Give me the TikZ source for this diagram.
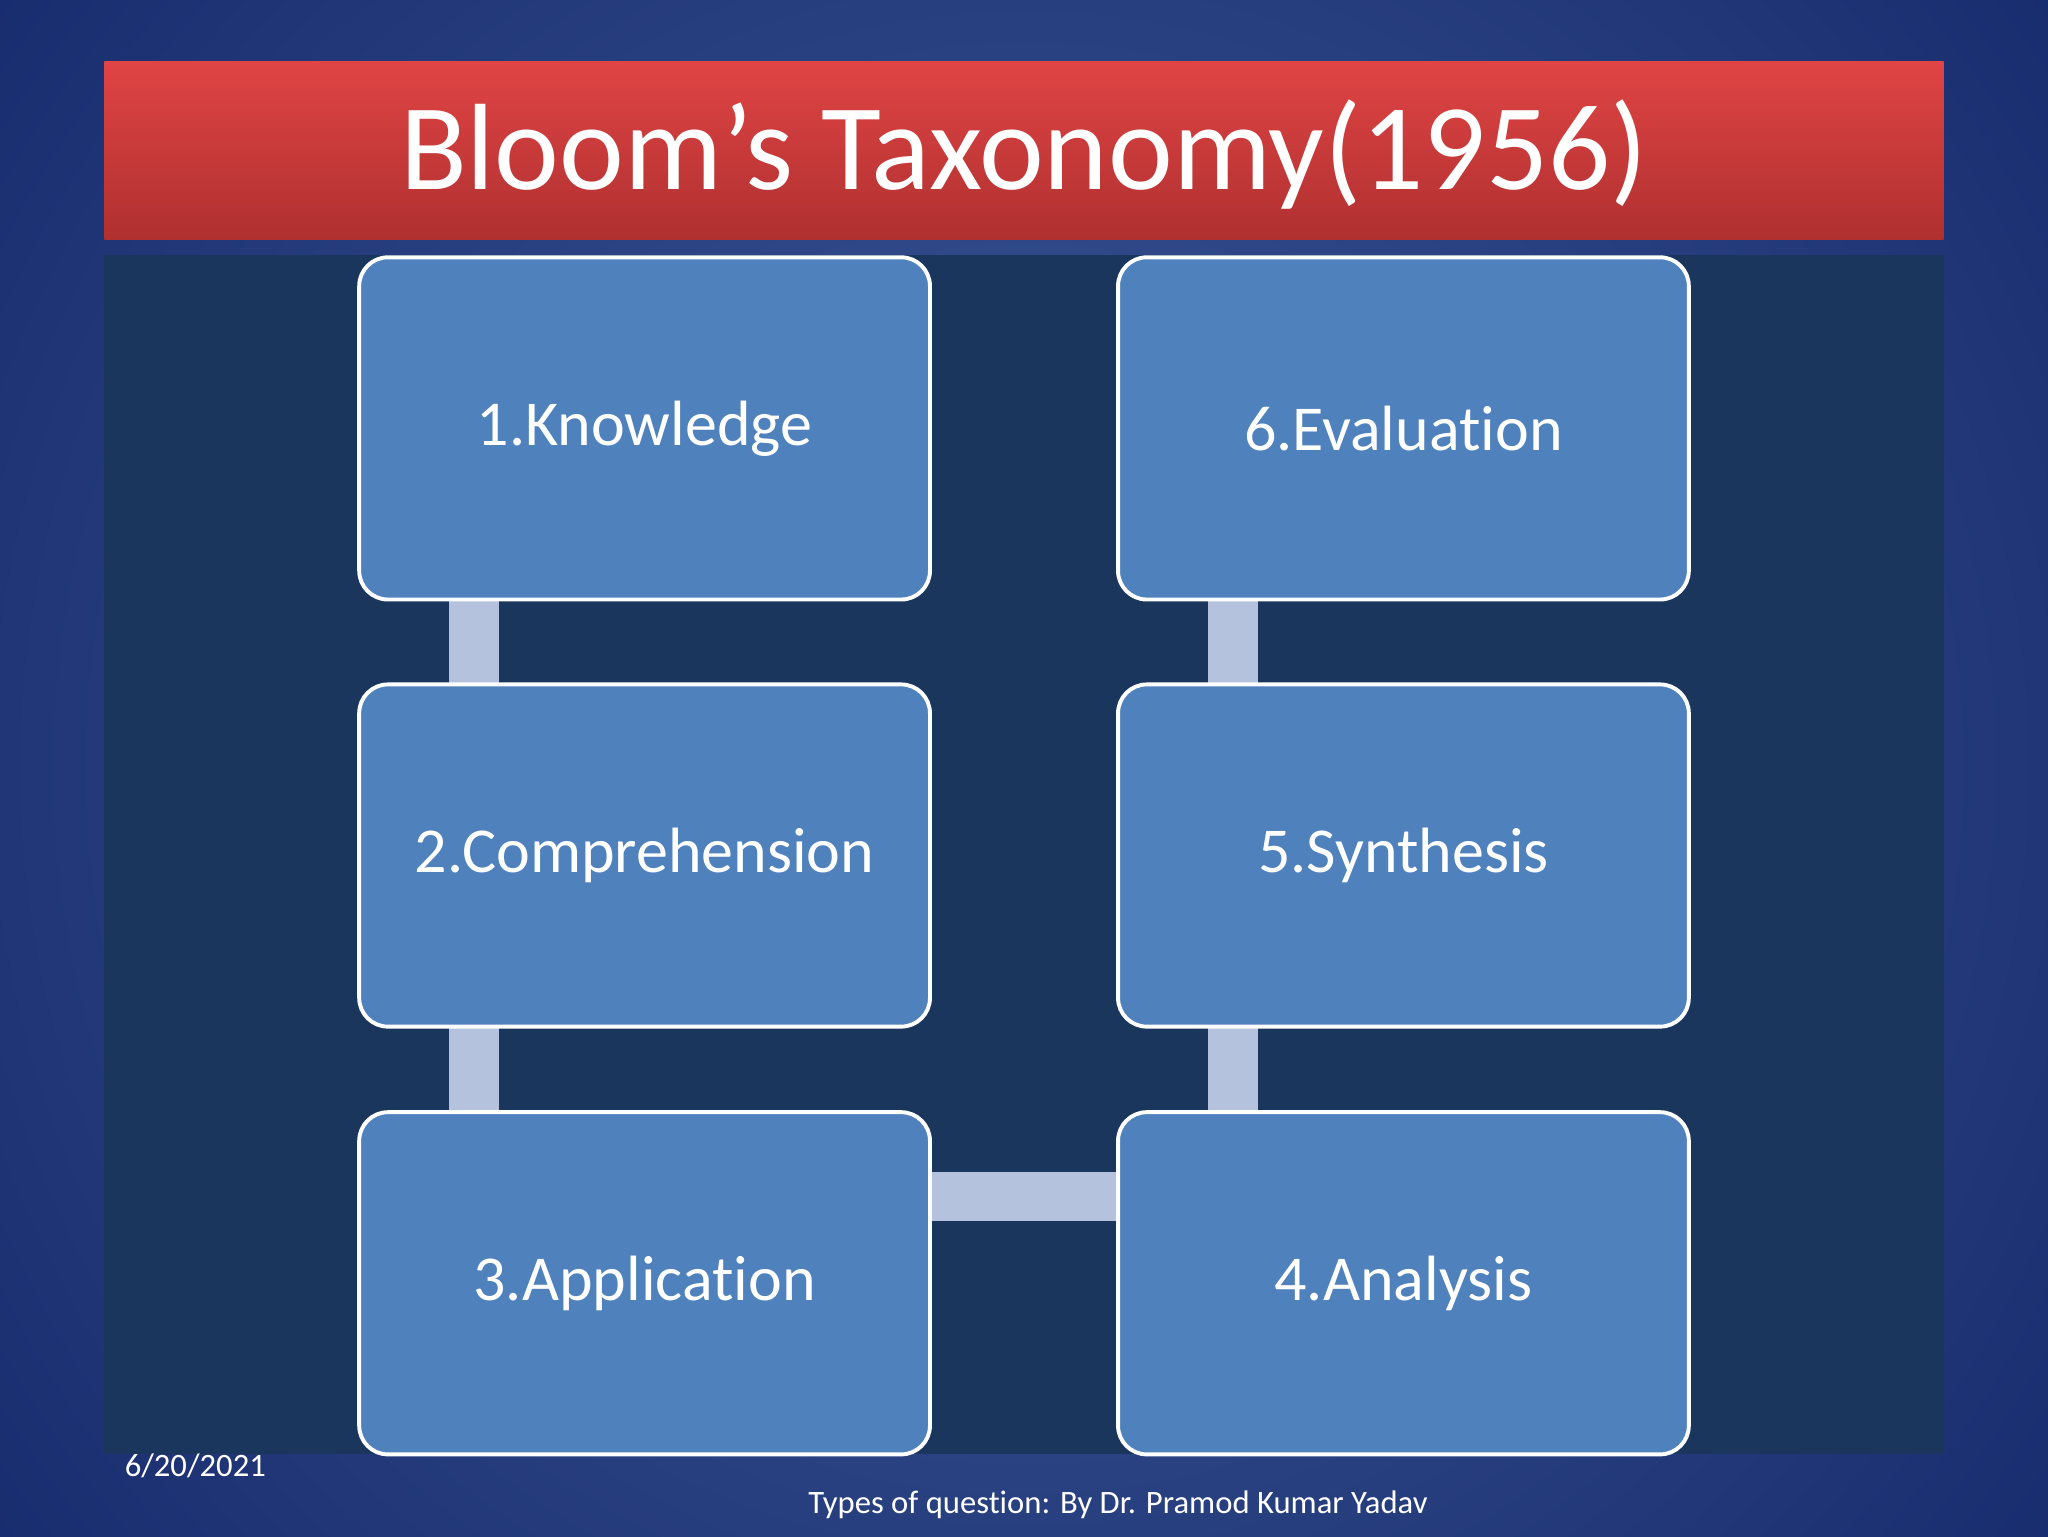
\documentclass[tikz,border=0pt]{standalone}
\usepackage{fontspec}
\setmainfont[Ligatures=NoCommon]{Carlito}
\usetikzlibrary{shadings}
\definecolor{bgA}{HTML}{3F5A98}
\definecolor{bgB}{HTML}{14286A}
\definecolor{panel}{HTML}{1B365D}
\definecolor{boxf}{HTML}{4F81BD}
\definecolor{barc}{HTML}{B4C2DD}
\definecolor{redt}{HTML}{E04444}
\definecolor{redb}{HTML}{B03030}
\tikzset{
  stepbox/.style={draw=white,line width=3pt,fill=boxf,rounded corners=22pt,minimum width=437pt,minimum height=262pt,text=white,font=\fontsize{49}{54}\selectfont,inner sep=0pt},
  bar/.style={fill=barc,draw=none}
}
\begin{document}
\begin{tikzpicture}[x=1pt,y=-1pt]
\useasboundingbox (0,0) rectangle (1568,1176);
\shade[inner color=bgA,outer color=bgB] (-300,-500) rectangle (1868,1676);
\fill[panel] (80,195) rectangle (1488,1113);
\shade[top color=redt,bottom color=redb] (80,47) rectangle (1488,183);
\node[text=white,font=\fontsize{94}{100}\selectfont] (title) at (784,118) {Bloom’s Taxonomy(1956)};
\fill[bar] (344,440) rectangle (382,540);
\fill[bar] (344,770) rectangle (382,870);
\fill[bar] (925,440) rectangle (963,540);
\fill[bar] (925,770) rectangle (963,870);
\fill[bar] (700,897) rectangle (870,935);
\node[stepbox] (k) at (493.5,328) {1.Knowledge};
\node[stepbox] (c) at (493.5,655) {2.Comprehension};
\node[stepbox] (a) at (493.5,982.5) {3.Application};
\node[stepbox] (e) at (1074.5,328) {6.Evaluation};
\node[stepbox] (s) at (1074.5,655) {5.Synthesis};
\node[stepbox] (an) at (1074.5,982.5) {4.Analysis};
\node[text=white,font=\fontsize{25}{28}\selectfont,anchor=west] (date) at (92,1122) {6/20/2021};
\node[text=white,font=\fontsize{25}{28}\selectfont] (foot) at (856,1152) {Types of question: By Dr. Pramod Kumar Yadav};
\end{tikzpicture}
\end{document}
